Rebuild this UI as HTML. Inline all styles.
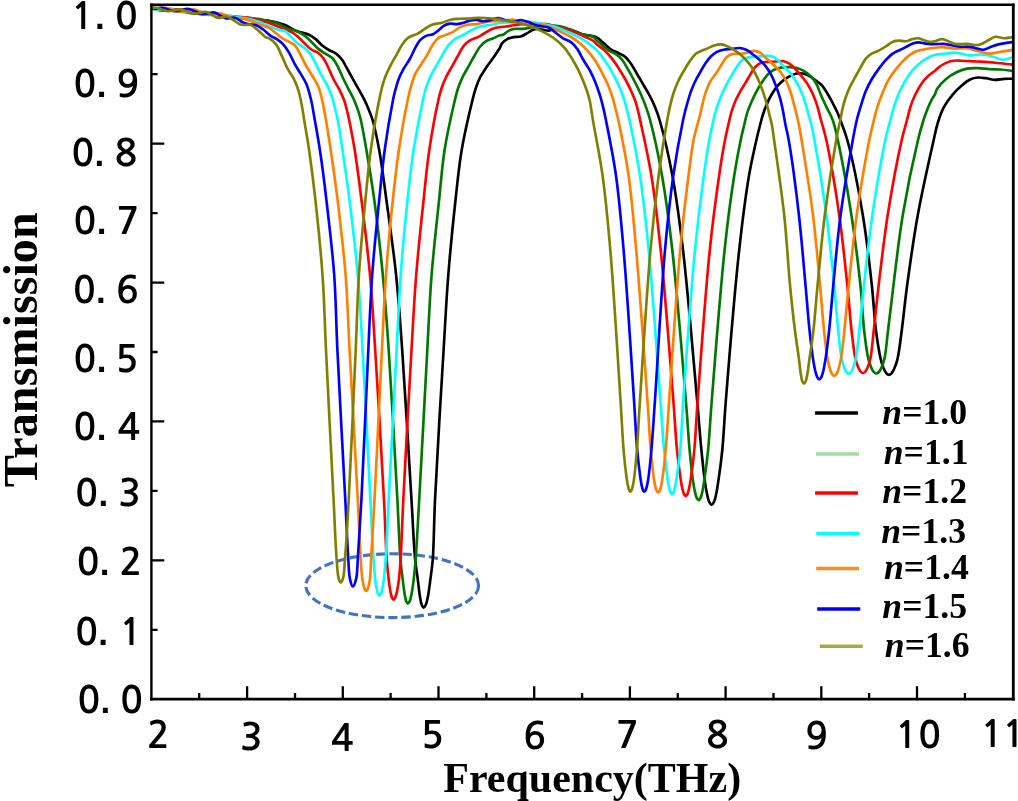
<!DOCTYPE html>
<html lang="en"><head><meta charset="utf-8"><title>Transmission vs Frequency</title>
<style>
html,body{margin:0;padding:0;background:#fff;}
body{width:1018px;height:801px;overflow:hidden;}
svg{display:block;}
.tk{font-family:"NanumGothic","Noto Sans CJK SC","Liberation Sans",sans-serif;font-weight:bold;font-size:37.5px;fill:#000;}
.tk .dot{font-family:"Liberation Sans",sans-serif;font-size:35px;}
.ax{font-family:"Liberation Serif",serif;font-weight:bold;fill:#000;}
.lg{font-family:"Liberation Serif",serif;font-weight:bold;font-size:35.7px;fill:#000;}
.lg .it{font-style:italic;}
.cv{fill:none;stroke-width:2.65;stroke-linejoin:round;stroke-linecap:round;}
</style></head><body>
<svg width="1018" height="801" viewBox="0 0 1018 801">
<rect width="1018" height="801" fill="#fff"/>
<ellipse cx="392.2" cy="585.7" rx="86.4" ry="31.9" fill="none" stroke="#4472c4" stroke-width="3.1" stroke-dasharray="9.3 3.9"/>
<g class="cv">
<path d="M152.0 7.6C153.9 8.2 155.8 8.8 157.7 9.2C159.6 9.7 161.4 10.2 163.3 10.4C165.2 10.6 167.1 10.5 169.0 10.5C170.9 10.4 172.8 10.0 174.7 9.9C176.6 9.8 178.4 9.6 180.3 9.8C182.2 9.9 184.1 10.3 186.0 10.8C187.9 11.2 189.8 12.0 191.7 12.4C193.6 12.9 195.4 13.5 197.3 13.7C199.2 13.9 201.1 13.9 203.0 13.9C204.9 13.8 206.8 13.5 208.7 13.4C210.6 13.3 212.4 13.2 214.3 13.4C216.2 13.5 218.1 14.0 220.0 14.4C221.9 14.9 223.8 15.7 225.7 16.2C227.6 16.7 229.4 17.2 231.3 17.5C233.2 17.7 235.1 17.6 237.0 17.6C238.9 17.6 240.8 17.5 242.7 17.6C244.6 17.7 246.4 17.9 248.3 18.1C250.2 18.4 252.1 18.8 254.0 19.1C255.9 19.4 257.6 19.8 259.7 20.0C262.2 20.3 264.8 20.1 267.9 20.6C272.3 21.3 278.7 22.8 283.6 24.6C288.4 26.4 292.7 29.5 297.1 31.2C301.1 32.8 305.6 33.1 308.9 34.7C311.7 36.0 313.8 37.6 316.0 39.4C318.2 41.2 319.8 43.5 321.9 45.3C324.1 47.1 326.5 48.6 328.9 50.0C331.2 51.4 333.9 52.0 336.0 53.6C338.2 55.2 340.2 57.2 341.9 59.5C343.7 61.9 345.0 64.8 346.6 67.7C348.5 71.0 350.5 74.8 352.5 78.3C354.5 81.8 356.4 85.4 358.4 88.9C360.4 92.5 362.5 96.0 364.3 99.6C366.0 103.1 367.6 106.7 369.0 110.2C370.3 113.5 371.4 115.8 372.6 120.0C374.7 127.2 377.1 138.7 379.2 150.0C381.8 164.5 383.9 181.6 386.4 200.0C389.5 222.5 393.5 250.0 396.1 275.0C398.7 300.0 400.1 320.7 402.2 350.0C405.2 391.4 409.1 461.5 411.5 500.0C413.0 524.2 413.7 544.6 415.1 559.0C415.9 567.3 416.9 572.3 417.7 578.6C418.4 584.4 419.0 590.7 419.8 595.5C420.4 599.1 420.8 602.6 421.7 604.8C422.3 606.1 422.9 607.7 423.6 607.7C424.3 607.7 425.2 606.1 425.8 604.8C426.8 602.6 427.4 599.1 428.1 595.5C429.0 590.7 429.7 584.4 430.5 578.6C431.3 572.3 432.2 567.3 432.8 559.0C433.9 544.6 433.9 524.2 435.0 500.0C436.8 461.4 441.1 391.4 443.6 350.0C445.4 320.7 446.3 300.0 448.3 275.0C450.3 250.0 453.0 222.5 455.5 200.0C457.5 181.6 458.9 166.6 461.7 150.0C464.5 133.3 469.9 110.6 472.5 100.0C473.7 95.0 474.3 92.7 475.5 89.0C476.8 85.1 478.4 80.8 480.2 77.2C481.9 73.8 484.1 70.8 486.1 67.8C488.0 64.9 489.9 62.5 492.0 59.5C494.5 55.9 498.4 50.7 500.0 47.7C500.9 46.0 500.8 44.9 501.8 43.6C503.1 41.9 505.6 40.0 507.7 38.9C509.6 37.9 511.5 37.5 513.6 37.1C515.8 36.7 518.4 37.1 520.6 36.5C522.7 35.9 524.6 34.7 526.5 33.6C528.5 32.5 530.5 30.8 532.4 30.0C534.0 29.3 535.6 29.0 537.2 28.9C538.8 28.8 540.2 29.3 541.9 29.5C544.0 29.8 546.6 30.8 548.9 30.6C551.3 30.4 553.4 28.9 556.0 28.5C558.9 28.1 562.3 28.0 565.4 28.5C568.6 29.0 571.8 30.4 574.9 31.5C578.0 32.5 581.4 34.1 584.3 34.8C586.8 35.4 589.2 35.4 591.4 35.9C593.4 36.4 595.2 36.7 597.1 37.7C599.4 39.0 601.8 41.6 604.1 43.6C606.5 45.6 608.7 47.9 611.2 49.5C613.5 51.0 616.0 51.7 618.3 53.0C620.7 54.3 623.3 55.3 625.4 57.1C627.6 59.0 629.4 61.5 631.3 64.2C633.4 67.2 635.2 70.9 637.2 74.2C639.1 77.5 641.1 80.9 643.0 84.2C645.0 87.5 647.0 90.6 648.9 94.2C651.0 98.1 653.0 102.3 654.8 106.6C656.6 110.9 657.8 113.9 659.6 120.0C663.1 132.1 668.6 155.2 672.3 175.0C676.6 198.0 679.5 220.7 683.0 250.0C687.9 291.4 693.8 363.4 697.1 400.0C699.0 421.1 700.0 435.7 701.4 450.0C702.5 460.9 703.4 470.6 704.5 478.6C705.3 484.5 706.0 489.5 707.0 493.8C707.7 497.0 708.3 500.2 709.4 502.2C710.0 503.4 710.9 504.8 711.6 504.8C712.3 504.8 713.2 503.4 713.8 502.2C714.9 500.2 715.5 497.0 716.2 493.8C717.2 489.5 717.8 484.5 718.7 478.6C719.9 470.6 721.2 460.9 722.3 450.0C723.7 435.7 724.2 421.1 725.9 400.0C728.8 363.4 734.6 291.4 739.2 250.0C742.4 220.7 745.7 195.2 749.1 175.0C751.5 161.1 754.3 149.2 756.4 140.0C757.8 133.9 758.9 129.6 760.1 125.0C761.1 121.0 761.9 117.6 763.1 114.0C764.3 110.4 765.7 106.8 767.2 103.4C768.6 100.1 770.1 97.0 771.9 94.0C773.7 91.1 775.6 88.2 777.8 85.7C779.9 83.3 782.4 81.0 784.9 79.2C787.2 77.5 789.5 76.1 791.9 75.1C794.2 74.2 796.7 73.5 799.0 73.3C801.0 73.1 803.0 73.4 804.9 73.9C806.9 74.5 809.0 75.7 810.8 76.8C812.5 77.9 813.9 79.2 815.5 80.4C817.2 81.7 819.2 82.5 820.9 84.2C823.0 86.3 824.9 89.5 826.8 92.5C828.9 95.8 830.9 99.7 832.7 103.1C834.4 106.3 836.1 109.5 837.4 112.5C838.6 115.1 839.2 116.9 840.3 120.0C842.2 125.1 844.8 131.1 847.3 140.0C852.0 156.9 858.7 190.4 862.8 215.0C866.8 238.7 869.5 264.2 871.8 285.0C873.6 301.6 874.2 316.7 875.9 330.0C877.3 340.6 879.0 351.7 880.6 358.6C881.6 362.6 882.4 365.4 883.5 368.0C884.4 370.0 885.2 372.0 886.3 373.2C887.1 374.0 888.0 374.8 888.9 374.8C889.8 374.8 890.8 374.0 891.7 373.2C892.8 372.0 893.7 370.0 894.5 368.0C895.7 365.4 896.7 362.6 897.6 358.6C899.2 351.7 900.4 340.6 901.8 330.0C903.6 316.7 904.9 301.6 907.2 285.0C910.0 264.2 913.5 238.7 917.8 215.0C922.3 190.4 930.0 156.3 933.7 140.0C935.5 132.1 936.1 128.1 937.9 122.5C939.6 117.0 941.5 111.4 944.1 106.6C946.6 102.1 949.8 98.0 952.9 94.3C955.7 91.0 958.7 88.0 961.8 85.4C964.6 83.0 967.7 80.5 970.6 79.2C973.0 78.1 975.2 77.7 977.7 77.5C980.5 77.3 983.7 77.9 986.5 78.3C989.0 78.7 991.0 79.6 993.6 79.8C996.8 80.0 1000.9 79.1 1004.2 78.9C1007.0 78.7 1009.5 78.8 1012.1 78.7" stroke="#000000"/>
<path d="M152.0 8.1C153.8 8.6 155.5 9.2 157.3 9.6C159.1 10.0 160.9 10.2 162.7 10.3C164.5 10.3 166.2 10.1 168.0 9.9C169.8 9.8 171.5 9.4 173.3 9.4C175.1 9.3 176.9 9.4 178.7 9.7C180.5 10.0 182.2 10.5 184.0 11.0C185.8 11.5 187.5 12.2 189.3 12.6C191.1 13.0 192.9 13.3 194.7 13.4C196.5 13.4 198.2 13.2 200.0 13.1C201.8 13.0 203.5 12.6 205.3 12.6C207.1 12.6 208.9 12.7 210.7 13.0C212.5 13.3 214.2 13.9 216.0 14.4C217.8 14.9 219.5 15.7 221.3 16.0C223.1 16.4 224.9 16.6 226.7 16.7C228.5 16.8 230.2 16.6 232.0 16.6C233.8 16.7 235.5 16.7 237.3 16.8C239.1 17.0 240.9 17.3 242.7 17.6C244.5 17.8 245.9 18.3 248.0 18.5C250.8 18.7 254.7 18.3 258.0 18.7C261.3 19.1 264.6 20.2 267.9 21.0C271.2 21.8 274.5 22.4 277.7 23.6C281.0 24.9 284.4 27.3 287.5 28.5C290.1 29.5 292.3 29.6 294.8 30.6C297.8 31.8 301.4 33.4 304.2 35.3C306.9 37.1 309.0 39.6 311.3 41.8C313.7 44.1 315.8 46.9 318.3 48.9C320.6 50.8 323.0 52.0 325.4 53.6C327.8 55.2 330.5 56.3 332.5 58.3C334.5 60.3 335.7 62.6 337.2 65.4C339.2 69.0 341.1 74.1 343.1 78.3C345.0 82.3 347.0 86.2 349.0 90.1C351.0 94.0 353.3 98.1 354.9 101.9C356.3 105.2 357.4 108.2 358.4 111.3C359.3 114.2 359.9 116.2 360.8 120.0C362.4 127.0 364.5 138.7 366.4 150.0C368.9 164.5 371.8 181.6 374.3 200.0C377.3 222.4 380.4 250.0 382.8 275.0C385.2 300.0 386.7 320.7 388.7 350.0C391.5 391.4 395.3 461.5 397.4 500.0C398.7 524.2 399.2 544.6 400.4 559.0C401.1 567.3 401.9 572.6 402.6 578.6C403.2 583.8 403.8 589.0 404.5 593.2C405.0 596.2 405.4 599.3 406.2 601.2C406.7 602.3 407.3 603.7 407.9 603.7C408.5 603.7 409.2 602.3 409.8 601.2C410.6 599.3 411.1 596.2 411.7 593.2C412.5 589.0 413.2 583.8 413.8 578.6C414.5 572.6 415.1 567.3 415.7 559.0C416.8 544.6 417.8 524.2 419.2 500.0C421.4 461.5 425.0 391.4 427.3 350.0C428.9 320.7 429.6 300.0 431.6 275.0C433.6 250.0 436.7 222.5 439.1 200.0C441.0 181.6 442.0 166.6 444.6 150.0C447.2 133.3 452.4 110.6 454.9 100.0C456.1 95.0 456.6 92.7 457.8 89.0C459.1 85.1 460.7 81.0 462.5 77.2C464.3 73.5 466.4 70.1 468.4 66.6C470.4 63.1 472.3 59.4 474.3 56.0C476.2 52.7 478.0 49.1 480.2 46.5C482.0 44.3 483.9 42.6 486.1 41.2C488.3 39.9 490.9 39.3 493.2 38.3C495.5 37.3 498.2 35.8 500.0 35.3C501.2 34.9 501.9 35.3 503.0 34.8C504.7 34.1 506.8 31.6 508.9 30.6C510.8 29.7 512.6 29.2 514.8 28.9C517.3 28.5 520.4 29.1 523.0 28.9C525.5 28.7 527.7 28.1 530.1 27.7C532.5 27.3 534.7 26.9 537.2 26.5C540.1 26.1 543.5 25.4 546.6 25.3C549.7 25.2 552.9 25.5 556.0 25.9C559.1 26.3 562.3 26.8 565.4 27.7C568.6 28.6 571.7 30.0 574.9 31.2C578.0 32.4 581.2 33.9 584.3 34.8C587.1 35.6 590.6 35.5 592.6 36.5C594.1 37.2 594.6 38.3 595.9 39.4C597.6 40.9 599.7 42.9 601.8 44.7C604.0 46.6 606.5 49.0 608.9 50.6C611.2 52.1 613.8 52.7 615.9 54.2C618.1 55.7 620.0 57.3 621.8 59.5C624.0 62.1 625.8 65.6 627.7 68.9C629.7 72.3 631.7 75.8 633.6 79.5C635.6 83.3 637.6 87.2 639.5 91.3C641.5 95.8 643.6 100.6 645.4 105.4C647.2 110.2 648.4 113.5 650.1 120.0C653.4 132.4 658.4 155.2 661.9 175.0C666.0 198.0 668.9 220.7 672.3 250.0C677.0 291.4 682.8 363.4 685.8 400.0C687.6 421.1 688.3 435.7 689.6 450.0C690.6 460.9 691.6 471.0 692.7 478.6C693.4 483.6 694.0 487.5 694.8 491.1C695.4 493.7 695.9 496.4 696.8 498.0C697.4 499.0 698.1 500.1 698.7 500.1C699.3 500.1 700.0 498.9 700.5 498.0C701.4 496.4 701.9 493.7 702.5 491.1C703.2 487.5 703.8 483.6 704.5 478.6C705.6 471.0 707.0 460.9 708.1 450.0C709.5 435.7 710.1 421.1 711.8 400.0C714.7 363.4 720.2 291.4 724.6 250.0C727.7 220.7 731.1 195.3 734.3 175.0C736.5 161.1 738.8 149.2 740.7 140.0C742.0 133.9 743.1 129.7 744.2 125.0C745.2 120.7 745.9 116.8 747.2 112.8C748.5 108.8 750.2 104.9 751.9 101.0C753.7 97.0 755.7 92.9 757.8 89.2C759.7 85.8 761.6 82.7 763.7 79.8C765.6 77.2 767.4 74.5 769.5 72.7C771.3 71.1 773.3 70.1 775.4 69.2C777.6 68.3 780.1 67.7 782.5 67.4C784.8 67.1 787.2 67.0 789.6 67.1C792.0 67.2 794.4 67.4 796.7 68.0C799.1 68.6 801.4 69.6 803.7 70.9C806.2 72.3 808.7 74.1 810.8 76.3C813.1 78.6 815.0 81.5 816.7 84.5C818.5 87.7 819.3 91.3 820.9 95.0C822.7 99.1 824.8 103.6 826.8 107.8C828.7 111.9 831.0 115.3 832.7 120.0C834.8 125.8 835.9 131.2 837.8 140.0C841.5 157.0 847.6 190.4 851.4 215.0C855.1 238.7 858.2 264.2 860.4 285.0C862.2 301.6 862.6 316.7 864.1 330.0C865.3 340.6 866.7 351.9 868.3 358.6C869.2 362.4 870.1 364.8 871.1 367.2C871.9 369.1 872.7 370.9 873.8 372.0C874.5 372.8 875.5 373.5 876.3 373.5C877.2 373.5 878.1 372.8 878.9 372.0C880.0 370.9 880.8 369.1 881.6 367.2C882.7 364.8 883.6 362.4 884.5 358.6C886.0 351.9 886.8 340.6 888.1 330.0C889.7 316.7 891.4 301.6 893.5 285.0C896.1 264.2 898.8 238.7 902.8 215.0C906.9 190.4 913.9 157.0 918.0 140.0C920.1 131.2 921.8 125.5 923.5 120.0C924.7 116.1 925.7 113.5 927.0 110.2C928.4 106.7 930.2 102.5 931.7 99.6C932.8 97.5 934.1 96.1 935.0 94.3C935.9 92.6 935.8 90.9 937.0 89.0C938.8 86.1 942.5 82.0 945.8 79.2C949.0 76.4 952.8 74.0 956.5 72.2C959.9 70.5 963.5 69.3 967.1 68.6C970.6 67.9 974.0 68.0 977.7 68.1C981.7 68.2 986.0 69.0 990.0 69.2C993.7 69.4 997.1 69.2 1000.7 69.5C1004.4 69.8 1008.3 70.4 1012.1 70.9" stroke="#007800"/>
<path d="M152.0 8.6C153.7 9.0 155.3 9.6 157.0 9.8C158.7 10.0 160.3 10.0 162.0 9.9C163.7 9.8 165.3 9.4 167.0 9.3C168.7 9.1 170.3 8.9 172.0 9.0C173.7 9.1 175.3 9.4 177.0 9.8C178.7 10.2 180.3 10.9 182.0 11.4C183.7 11.9 185.3 12.4 187.0 12.6C188.7 12.8 190.3 12.9 192.0 12.8C193.7 12.7 195.3 12.4 197.0 12.2C198.7 12.1 200.3 11.9 202.0 12.0C203.7 12.1 205.3 12.5 207.0 12.9C208.7 13.3 210.3 14.1 212.0 14.5C213.7 15.0 215.3 15.4 217.0 15.6C218.7 15.8 220.3 15.7 222.0 15.8C223.7 15.8 225.3 15.7 227.0 15.8C228.7 15.8 230.3 16.0 232.0 16.2C233.7 16.4 235.0 16.8 237.0 17.0C240.0 17.3 244.6 17.0 248.2 17.5C251.6 18.0 254.7 19.2 258.0 20.0C261.3 20.9 264.6 21.5 267.9 22.6C271.2 23.7 274.4 25.2 277.7 26.5C281.0 27.8 285.3 29.7 287.5 30.5C288.6 30.9 289.0 30.7 290.0 31.2C291.8 32.0 294.8 34.0 297.1 35.9C299.6 37.9 301.8 40.7 304.2 43.0C306.5 45.2 308.8 47.8 311.3 49.5C313.5 51.0 316.3 51.6 318.3 53.0C320.1 54.3 321.6 55.8 323.0 57.7C324.8 60.1 326.2 63.2 327.8 66.5C329.7 70.4 331.6 75.4 333.7 79.5C335.6 83.3 337.8 86.5 339.6 90.1C341.3 93.6 343.0 97.1 344.3 100.7C345.5 104.2 346.4 107.9 347.2 111.3C348.0 114.3 348.4 116.2 349.2 120.0C350.6 127.0 352.9 138.7 354.7 150.0C357.0 164.5 359.2 181.6 361.5 200.0C364.3 222.5 367.7 250.0 370.0 275.0C372.3 300.0 373.3 320.7 375.2 350.0C377.9 391.4 382.0 461.5 384.0 500.0C385.3 524.2 385.7 544.6 386.7 559.0C387.3 567.3 387.9 572.8 388.6 578.6C389.1 583.2 389.7 587.4 390.3 590.9C390.8 593.5 391.2 596.1 392.0 597.7C392.4 598.6 393.0 599.8 393.5 599.8C394.1 599.8 394.7 598.7 395.2 597.7C396.0 596.1 396.5 593.5 397.1 590.9C397.8 587.4 398.5 583.2 399.0 578.6C399.7 572.8 400.1 567.3 400.6 559.0C401.5 544.6 402.1 524.2 403.3 500.0C405.2 461.5 409.1 391.4 411.5 350.0C413.2 320.7 414.2 300.0 416.2 275.0C418.2 250.0 421.2 222.5 423.6 200.0C425.6 181.6 426.8 166.6 429.3 150.0C431.8 133.3 436.0 110.6 438.4 100.0C439.5 95.0 440.1 92.7 441.3 89.0C442.6 85.1 444.2 81.0 446.0 77.2C447.8 73.5 449.9 70.1 451.9 66.6C453.9 63.1 455.8 59.5 457.8 56.0C459.7 52.6 461.5 48.6 463.7 45.9C465.5 43.7 467.3 42.0 469.6 40.6C472.0 39.1 475.2 38.4 477.8 37.1C480.3 35.9 482.5 34.4 484.9 33.0C487.3 31.6 489.5 29.9 492.0 28.9C494.5 27.9 497.6 27.5 500.0 27.1C501.9 26.8 503.3 26.8 505.3 26.5C507.8 26.2 510.7 25.7 513.6 25.3C516.6 24.9 519.7 24.4 523.0 24.1C526.7 23.8 530.9 23.6 534.8 23.6C538.7 23.6 542.9 23.6 546.6 24.1C549.9 24.6 552.9 25.7 556.0 26.5C559.1 27.3 562.3 27.9 565.4 28.9C568.6 29.9 571.8 31.1 574.9 32.4C578.1 33.7 581.2 35.0 584.3 36.5C587.5 38.0 591.4 39.5 593.7 41.2C595.2 42.3 595.7 43.5 597.1 44.7C599.0 46.4 601.8 48.0 604.1 50.0C606.6 52.2 608.9 54.9 611.2 57.7C613.7 60.7 616.0 64.2 618.3 67.7C620.7 71.4 623.2 75.5 625.4 79.5C627.5 83.4 629.5 87.3 631.3 91.3C633.0 95.2 634.6 98.8 636.0 103.1C637.6 108.2 638.5 112.7 640.1 120.0C643.0 133.1 648.0 155.2 651.3 175.0C655.1 198.0 657.6 220.7 660.7 250.0C665.0 291.4 670.4 363.4 673.3 400.0C675.0 421.1 675.6 435.7 677.0 450.0C678.1 460.9 679.5 471.5 680.6 478.6C681.2 482.9 681.7 485.9 682.4 488.8C682.9 491.0 683.4 493.1 684.1 494.4C684.6 495.3 685.2 496.2 685.7 496.2C686.2 496.2 686.8 495.3 687.3 494.4C688.0 493.1 688.5 491.0 689.0 488.8C689.7 485.9 690.2 482.9 690.8 478.6C691.9 471.5 693.3 460.9 694.3 450.0C695.7 435.7 696.1 421.1 697.7 400.0C700.4 363.4 705.5 291.4 709.8 250.0C712.8 220.7 716.3 195.3 719.2 175.0C721.2 161.1 723.2 149.2 725.0 140.0C726.2 133.9 727.2 129.7 728.3 125.0C729.3 120.7 730.0 116.8 731.2 112.8C732.4 108.8 733.8 104.7 735.4 101.0C736.8 97.6 738.4 94.7 740.1 91.6C741.9 88.4 744.2 85.2 746.0 82.1C747.7 79.3 749.1 76.5 750.7 73.9C752.2 71.4 753.5 68.7 755.4 66.8C757.1 65.0 759.1 63.5 761.3 62.7C763.5 61.9 765.9 62.1 768.4 61.9C771.0 61.7 774.0 61.6 776.6 61.5C779.1 61.4 781.5 60.8 783.7 61.2C785.8 61.6 787.7 62.7 789.6 63.9C791.7 65.3 793.5 67.2 795.5 69.2C797.8 71.6 800.4 74.6 802.6 77.4C804.7 80.1 806.7 82.6 808.5 85.7C810.6 89.2 812.7 93.6 814.3 97.5C815.8 101.1 816.9 104.8 817.9 108.1C818.8 111.0 819.1 112.9 820.0 116.3C821.5 122.2 824.1 129.8 826.3 140.0C830.2 157.9 835.7 190.4 839.2 215.0C842.6 238.7 845.1 264.2 847.3 285.0C849.0 301.6 850.0 316.7 851.5 330.0C852.7 340.6 853.9 352.0 855.4 358.6C856.2 362.3 857.1 364.6 858.1 367.0C858.8 368.8 859.6 370.5 860.6 371.6C861.3 372.3 862.2 373.0 863.0 373.0C863.8 373.0 864.6 372.3 865.3 371.6C866.3 370.5 867.0 368.8 867.8 367.0C868.8 364.6 869.6 362.3 870.4 358.6C871.8 352.0 872.6 340.6 873.8 330.0C875.3 316.7 876.7 301.6 878.7 285.0C881.2 264.2 884.0 238.7 887.7 215.0C891.6 190.4 897.9 157.0 901.7 140.0C903.7 131.2 905.4 126.0 907.0 120.0C908.3 115.1 909.1 110.9 910.5 106.6C911.8 102.5 913.4 98.6 915.2 94.8C917.0 91.1 918.9 87.4 921.1 84.2C923.2 81.2 925.7 78.3 928.2 76.0C930.4 73.9 932.9 72.4 935.0 70.7C936.9 69.1 938.2 67.5 940.5 66.0C943.4 64.1 947.6 61.9 951.2 61.0C954.7 60.2 958.0 60.6 961.8 60.7C966.2 60.8 971.4 61.3 975.9 61.5C980.2 61.7 984.2 61.8 988.3 62.1C992.4 62.4 996.7 62.9 1000.7 63.3C1004.6 63.7 1008.3 64.2 1012.1 64.6" stroke="#ff0000"/>
<path d="M152.0 9.2C153.6 9.4 155.2 9.7 156.8 9.7C158.4 9.7 159.9 9.4 161.5 9.2C163.1 9.0 164.6 8.7 166.2 8.7C167.8 8.6 169.4 8.7 171.0 9.0C172.6 9.3 174.2 9.9 175.8 10.3C177.4 10.8 178.9 11.5 180.5 11.8C182.1 12.1 183.6 12.3 185.2 12.4C186.8 12.4 188.4 12.1 190.0 11.9C191.6 11.8 193.2 11.4 194.8 11.4C196.4 11.4 197.9 11.5 199.5 11.8C201.1 12.1 202.6 12.8 204.2 13.2C205.8 13.7 207.4 14.4 209.0 14.8C210.6 15.1 212.2 15.2 213.8 15.3C215.4 15.3 216.9 15.0 218.5 15.0C220.1 14.9 221.6 14.9 223.2 15.0C224.8 15.1 226.4 15.4 228.0 15.6C229.6 15.9 231.2 16.3 232.8 16.6C234.4 16.8 235.6 17.0 237.5 17.2C240.3 17.6 244.7 18.0 248.2 18.7C251.6 19.4 254.7 20.5 258.0 21.6C261.3 22.7 264.6 24.2 267.9 25.5C271.2 26.8 274.6 28.5 277.7 29.5C280.4 30.3 283.1 30.0 285.3 31.2C287.6 32.5 289.2 35.1 291.2 37.1C293.2 39.1 294.9 41.2 297.1 43.0C299.3 44.8 302.0 45.9 304.2 47.7C306.4 49.5 308.3 51.2 310.1 53.6C312.3 56.5 314.1 60.5 316.0 64.2C318.0 68.0 319.9 72.2 321.9 76.0C323.8 79.7 326.0 82.9 327.8 86.6C329.6 90.4 331.2 94.4 332.5 98.4C333.7 102.3 334.5 106.4 335.4 110.2C336.2 113.6 337.0 115.8 337.8 120.0C339.3 127.3 340.8 138.7 342.5 150.0C344.7 164.5 347.2 181.6 349.5 200.0C352.3 222.5 355.6 250.0 357.8 275.0C360.0 300.0 360.9 320.7 362.6 350.0C365.0 391.4 368.4 461.5 370.4 500.0C371.7 524.2 372.5 544.6 373.5 559.0C374.1 567.3 374.5 573.2 375.1 578.6C375.6 582.5 376.0 585.7 376.6 588.5C377.0 590.6 377.4 592.7 378.0 594.0C378.4 594.8 378.9 595.7 379.4 595.7C379.9 595.7 380.4 594.8 380.8 594.0C381.5 592.7 381.9 590.6 382.3 588.5C382.9 585.7 383.4 582.5 383.9 578.6C384.6 573.2 385.1 567.3 385.7 559.0C386.7 544.6 387.4 524.2 388.7 500.0C390.7 461.5 394.4 391.4 396.6 350.0C398.2 320.7 398.9 300.0 400.7 275.0C402.5 250.0 405.1 222.5 407.5 200.0C409.5 181.6 411.0 166.6 413.6 150.0C416.2 133.3 420.6 111.0 423.0 100.0C424.2 94.5 424.7 91.8 426.0 87.8C427.3 83.8 428.9 79.8 430.7 76.0C432.5 72.3 434.6 68.9 436.6 65.4C438.6 61.9 440.5 58.2 442.5 54.8C444.4 51.5 446.3 48.1 448.4 45.4C450.2 43.1 452.0 41.2 454.3 39.5C456.7 37.8 459.9 36.7 462.5 35.3C465.0 34.0 467.2 32.5 469.6 31.2C471.9 29.9 474.3 28.6 476.7 27.7C479.0 26.8 481.3 26.4 483.7 25.9C486.3 25.4 489.3 25.2 492.0 24.7C494.7 24.2 497.3 23.4 500.0 23.0C502.6 22.6 504.9 22.5 507.7 22.4C511.2 22.3 515.7 22.5 519.5 22.4C523.1 22.3 526.6 21.6 530.1 21.8C533.6 22.0 537.2 22.9 540.7 23.6C544.2 24.3 547.9 25.0 551.3 25.9C554.5 26.8 557.6 27.7 560.7 28.9C563.9 30.1 567.1 31.5 570.2 33.0C573.4 34.5 576.5 36.0 579.6 37.7C582.8 39.5 586.1 41.4 589.0 43.6C591.9 45.7 594.6 48.0 597.1 50.6C599.7 53.3 601.8 56.3 604.1 59.5C606.5 63.0 609.0 66.9 611.2 70.7C613.3 74.4 615.2 77.9 617.1 81.9C619.2 86.3 621.4 91.5 623.0 96.0C624.4 100.1 625.4 103.8 626.5 107.8C627.6 111.8 628.3 114.4 629.5 120.0C632.0 131.7 636.9 155.2 639.9 175.0C643.4 198.0 645.8 220.7 648.7 250.0C652.7 291.4 657.6 363.4 660.4 400.0C662.0 421.1 662.7 435.7 664.1 450.0C665.2 460.9 666.6 471.8 667.6 478.6C668.2 482.4 668.6 485.0 669.1 487.5C669.6 489.4 670.0 491.3 670.6 492.5C671.0 493.2 671.5 494.0 672.0 494.0C672.5 494.0 673.0 493.2 673.4 492.5C674.1 491.3 674.5 489.4 674.9 487.5C675.5 485.0 675.9 482.4 676.5 478.6C677.5 471.8 679.2 460.9 680.2 450.0C681.6 435.7 681.8 421.1 683.3 400.0C685.9 363.4 690.9 291.4 695.0 250.0C697.9 220.7 701.1 195.3 703.9 175.0C705.8 161.1 707.6 149.2 709.3 140.0C710.4 133.9 711.3 129.7 712.4 125.0C713.4 120.7 714.1 117.0 715.3 112.8C716.6 108.2 718.2 103.3 720.0 98.7C721.8 94.2 723.8 89.8 725.9 85.7C727.8 81.9 729.8 78.5 731.8 75.1C733.7 71.8 735.8 68.3 737.7 65.6C739.3 63.4 740.5 61.2 742.4 59.8C744.1 58.5 746.1 57.9 748.3 57.4C750.8 56.8 753.8 57.0 756.6 56.8C759.3 56.6 762.2 56.1 764.8 56.0C767.2 55.9 769.7 55.5 771.9 56.2C774.1 56.9 775.8 58.6 777.8 60.3C780.1 62.3 782.6 65.0 784.9 67.4C787.3 69.9 789.8 72.3 791.9 75.1C794.1 78.0 796.0 81.2 797.8 84.5C799.6 87.9 801.2 91.5 802.6 95.1C804.0 98.6 805.0 102.2 806.1 105.7C807.2 109.2 808.1 112.9 809.0 116.3C809.8 119.3 810.6 121.7 811.4 125.0C812.4 129.3 813.2 133.1 814.5 140.0C817.3 155.4 823.1 190.4 826.4 215.0C829.6 238.7 832.1 264.2 834.2 285.0C835.9 301.6 836.8 316.7 838.2 330.0C839.3 340.6 840.2 351.8 841.6 358.6C842.4 362.4 843.2 364.9 844.1 367.4C844.9 369.3 845.6 371.2 846.5 372.3C847.2 373.1 848.0 373.8 848.8 373.8C849.5 373.8 850.4 373.1 851.0 372.3C851.9 371.2 852.6 369.3 853.3 367.4C854.3 364.9 855.0 362.4 855.8 358.6C857.2 351.8 858.2 340.6 859.4 330.0C860.9 316.7 862.2 301.6 864.0 285.0C866.3 264.2 868.9 238.7 872.4 215.0C876.0 190.4 881.7 157.0 885.3 140.0C887.2 131.2 888.8 126.0 890.4 120.0C891.7 115.1 892.6 111.0 894.0 106.6C895.4 102.2 896.9 97.9 898.7 93.7C900.5 89.6 902.4 85.7 904.6 81.9C906.8 78.2 909.2 74.4 911.7 71.3C913.9 68.6 916.3 66.3 918.7 64.2C921.0 62.2 923.2 60.4 925.8 58.9C928.6 57.3 931.9 55.6 935.0 54.8C938.0 54.0 940.8 54.2 944.1 53.9C947.9 53.5 952.4 52.5 956.5 52.7C960.6 52.9 964.7 55.1 968.8 55.4C972.9 55.7 977.2 54.3 981.2 54.5C984.9 54.7 988.3 55.3 991.8 56.2C995.4 57.1 998.9 59.6 1002.4 59.8C1005.7 60.0 1008.9 58.3 1012.1 57.5" stroke="#00ffff"/>
<path d="M152.0 8.3C154.0 8.5 155.9 9.0 158.0 8.9C160.3 8.8 162.9 7.6 165.3 7.7C167.6 7.8 169.7 8.9 172.0 9.6C174.4 10.3 177.0 11.6 179.5 11.8C181.9 12.0 184.2 11.2 186.5 10.8C188.9 10.4 191.3 9.2 193.6 9.4C195.8 9.6 197.9 10.9 200.0 11.8C202.2 12.7 204.3 14.3 206.6 14.7C208.8 15.1 211.2 14.7 213.5 14.5C215.9 14.3 218.5 13.4 220.7 13.6C222.8 13.8 224.6 14.8 226.5 15.5C228.5 16.2 230.5 17.3 232.5 17.7C234.4 18.1 236.4 18.0 238.4 18.2C240.4 18.4 242.2 18.4 244.3 18.9C246.9 19.5 249.8 20.8 252.6 21.8C255.6 22.9 259.0 24.2 262.0 25.3C264.8 26.3 268.0 27.1 270.0 28.3C271.5 29.2 272.1 30.1 273.5 31.2C275.5 32.8 278.2 35.4 280.6 37.1C282.9 38.7 285.3 39.8 287.7 41.2C290.1 42.6 292.8 43.3 294.8 45.3C297.2 47.6 298.7 51.4 300.6 54.8C302.6 58.5 304.4 62.8 306.5 66.5C308.4 69.9 310.5 72.7 312.4 76.0C314.4 79.4 316.7 82.6 318.3 86.6C320.2 91.1 321.3 96.6 322.5 101.9C323.8 107.7 324.8 113.2 326.0 120.0C327.5 128.7 329.0 138.7 330.7 150.0C332.8 164.5 335.4 181.6 337.6 200.0C340.3 222.5 343.6 250.0 345.6 275.0C347.6 300.0 348.0 320.7 349.6 350.0C351.8 391.4 355.8 461.5 357.8 500.0C359.1 524.2 359.8 544.6 360.7 559.0C361.2 567.3 361.6 573.7 362.3 578.6C362.7 581.6 363.2 583.8 363.7 585.8C364.1 587.3 364.4 588.9 365.0 589.8C365.3 590.3 365.8 591.0 366.2 591.0C366.6 591.0 367.1 590.3 367.4 589.8C367.9 588.9 368.3 587.3 368.7 585.8C369.2 583.8 369.6 581.6 370.0 578.6C370.6 573.7 370.6 567.3 371.1 559.0C371.9 544.6 373.2 524.2 374.5 500.0C376.6 461.5 379.7 391.4 381.9 350.0C383.4 320.7 384.2 300.0 386.0 275.0C387.8 250.0 390.4 222.5 392.8 200.0C394.8 181.6 396.4 166.6 398.9 150.0C401.4 133.3 405.4 111.0 407.7 100.0C408.8 94.5 409.4 92.0 410.6 87.8C411.9 83.2 413.4 77.8 415.4 73.7C417.1 70.1 419.3 67.4 421.3 64.2C423.3 61.1 425.3 58.1 427.2 54.8C429.2 51.4 430.9 47.2 433.0 44.2C434.8 41.6 436.6 39.3 438.9 37.7C441.0 36.2 443.6 35.8 446.0 34.8C448.4 33.8 450.8 33.0 453.1 31.8C455.5 30.5 457.8 28.3 460.2 27.1C462.5 26.0 464.7 25.2 467.2 24.7C470.1 24.1 473.8 24.5 476.7 24.1C479.2 23.7 481.2 22.9 483.7 22.4C486.6 21.9 490.3 21.5 493.2 21.2C495.7 21.0 498.5 20.7 500.0 20.8C500.8 20.9 500.9 21.2 501.8 21.2C504.0 21.3 509.9 19.5 513.6 19.7C516.9 19.9 519.9 21.1 523.0 21.8C526.1 22.4 529.2 23.1 532.4 23.6C535.5 24.1 538.8 24.0 541.9 24.7C545.1 25.4 548.2 26.5 551.3 27.7C554.5 28.9 557.6 30.3 560.7 31.8C563.9 33.3 567.1 34.7 570.2 36.5C573.4 38.4 576.6 40.5 579.6 43.0C582.9 45.7 586.2 49.2 589.0 52.4C591.6 55.4 593.8 58.5 595.9 61.8C598.1 65.2 599.9 68.7 601.8 72.4C603.8 76.2 605.9 80.1 607.7 84.2C609.5 88.4 611.0 92.8 612.4 97.2C613.8 101.5 614.9 106.2 615.9 110.2C616.8 113.7 617.3 115.4 618.3 120.0C620.6 130.9 625.7 155.2 628.5 175.0C631.8 198.0 633.6 220.7 636.2 250.0C639.9 291.4 644.8 363.4 647.4 400.0C648.9 421.1 649.5 435.7 650.8 450.0C651.8 460.9 652.9 472.0 653.9 478.6C654.4 482.1 654.8 484.3 655.4 486.6C655.8 488.3 656.2 490.0 656.8 491.0C657.2 491.7 657.8 492.4 658.2 492.4C658.6 492.4 659.1 491.7 659.5 491.0C660.1 490.0 660.5 488.3 660.9 486.6C661.5 484.3 661.9 482.1 662.4 478.6C663.4 472.0 664.7 460.9 665.7 450.0C667.0 435.7 667.7 421.1 669.2 400.0C671.8 363.4 676.4 291.4 680.2 250.0C682.9 220.7 686.0 195.3 688.6 175.0C690.4 161.1 691.5 150.6 693.6 140.0C695.4 131.0 698.4 121.8 700.0 115.2C701.0 110.9 701.5 108.2 702.4 104.5C703.4 100.4 704.5 95.6 705.9 91.6C707.2 87.8 708.8 84.2 710.6 81.0C712.3 78.0 714.6 75.6 716.5 72.7C718.5 69.7 720.5 66.1 722.4 63.3C724.0 60.9 725.2 58.4 727.1 56.8C728.8 55.4 730.9 54.4 733.0 53.9C735.2 53.4 737.7 54.1 740.1 53.9C742.5 53.7 744.9 53.2 747.2 52.7C749.6 52.2 752.0 50.9 754.2 50.9C756.3 50.9 758.2 51.7 760.1 52.7C762.2 53.9 763.9 56.1 766.0 58.0C768.3 60.1 770.8 62.3 773.1 64.5C775.5 66.8 778.1 68.8 780.2 71.5C782.4 74.3 784.4 77.6 786.1 81.0C787.9 84.6 789.4 88.7 790.8 92.8C792.2 97.0 793.2 101.5 794.3 105.7C795.4 109.7 796.5 114.0 797.3 117.5C798.0 120.3 798.4 122.1 799.0 125.0C799.8 129.1 800.5 133.1 801.6 140.0C804.1 155.4 809.9 190.4 813.0 215.0C816.0 238.7 818.0 264.2 820.0 285.0C821.6 301.6 822.6 316.7 824.0 330.0C825.1 340.6 826.2 351.5 827.5 358.6C828.3 362.8 829.0 365.8 829.9 368.6C830.5 370.8 831.2 372.9 832.1 374.2C832.7 375.0 833.5 375.9 834.2 375.9C834.9 375.9 835.7 375.0 836.4 374.2C837.3 372.9 837.9 370.8 838.6 368.6C839.5 365.8 840.2 362.8 841.0 358.6C842.3 351.5 843.3 340.6 844.4 330.0C845.8 316.7 847.0 301.6 848.8 285.0C851.0 264.2 853.4 238.7 856.7 215.0C860.2 190.4 865.9 157.0 869.3 140.0C871.1 131.2 872.4 126.0 873.9 120.0C875.1 115.1 876.1 111.0 877.5 106.6C878.9 102.2 880.5 98.0 882.2 93.7C884.0 89.3 885.9 84.7 888.1 80.7C890.2 76.9 892.7 73.4 895.2 70.1C897.5 67.1 899.8 64.3 902.2 61.8C904.5 59.4 906.8 57.1 909.3 55.3C911.6 53.6 914.0 52.2 916.4 51.2C918.7 50.3 920.8 50.0 923.5 49.5C926.9 48.8 931.6 48.1 935.0 47.7C937.7 47.4 939.5 47.0 942.3 47.1C945.9 47.2 950.6 48.4 954.7 48.6C958.8 48.8 963.0 47.8 967.1 48.3C971.2 48.8 975.4 50.6 979.4 51.5C983.1 52.3 986.5 53.5 990.0 53.6C993.6 53.7 997.1 52.4 1000.7 51.8C1004.4 51.2 1008.3 50.7 1012.1 50.1" stroke="#ff8000"/>
<path d="M152.0 8.3C153.3 8.4 154.5 8.7 156.0 8.6C157.8 8.5 159.9 7.6 161.8 7.7C163.7 7.8 165.6 8.7 167.5 9.3C169.5 9.9 171.5 11.0 173.6 11.2C175.8 11.4 178.2 10.6 180.5 10.2C182.9 9.8 185.3 8.6 187.7 8.8C190.1 9.0 192.6 10.4 195.0 11.3C197.3 12.2 199.6 13.8 201.9 14.1C204.0 14.4 206.0 13.9 208.0 13.6C209.9 13.3 211.8 12.2 213.7 12.4C215.7 12.6 217.6 14.2 219.5 15.2C221.5 16.2 223.5 17.9 225.4 18.3C227.0 18.7 228.4 18.3 230.0 18.2C231.6 18.1 233.1 17.3 234.9 17.7C237.6 18.3 241.5 21.9 244.3 23.0C246.4 23.8 248.1 23.9 250.0 24.3C252.0 24.7 254.1 24.6 256.1 25.3C258.5 26.2 260.9 27.9 263.2 29.5C265.6 31.2 267.6 33.7 270.0 35.4C272.3 37.0 274.9 37.9 277.1 39.4C279.2 40.8 281.2 42.2 283.0 44.1C285.1 46.4 287.0 49.3 288.9 52.4C291.0 55.9 292.8 60.5 294.8 64.2C296.7 67.6 298.7 70.4 300.6 73.6C302.6 77.0 304.8 80.2 306.5 84.2C308.5 89.0 309.9 94.9 311.3 100.7C312.7 106.8 313.5 112.9 314.8 120.0C316.4 128.9 318.2 138.7 319.9 150.0C322.1 164.5 324.3 181.6 326.4 200.0C329.0 222.5 332.4 250.0 334.2 275.0C336.0 300.0 336.0 320.7 337.4 350.0C339.4 391.4 343.3 461.5 345.3 500.0C346.6 524.2 347.3 544.6 348.3 559.0C348.8 567.3 348.8 573.6 349.9 578.6C350.6 581.9 351.9 586.4 352.9 586.4C354.0 586.4 355.4 581.9 356.2 578.6C357.4 573.6 357.2 567.3 357.8 559.0C358.8 544.6 360.1 524.2 361.4 500.0C363.5 461.5 366.3 391.4 368.3 350.0C369.7 320.7 370.4 300.0 372.2 275.0C374.0 250.0 376.9 222.5 379.2 200.0C381.1 181.6 382.4 166.6 384.7 150.0C387.0 133.3 391.0 110.2 393.0 100.0C393.9 95.5 394.4 93.6 395.3 90.2C396.3 86.4 397.4 82.1 398.9 78.4C400.2 75.0 401.9 72.0 403.6 68.9C405.4 65.7 407.6 62.9 409.5 59.5C411.6 55.8 413.5 51.2 415.4 47.7C417.0 44.8 418.2 42.1 420.1 40.1C421.8 38.3 423.8 36.9 426.0 35.9C428.1 34.9 430.9 35.2 433.0 34.2C435.2 33.2 437.1 31.4 438.9 30.0C440.6 28.7 441.9 27.0 443.7 25.9C445.5 24.8 447.5 23.9 449.6 23.6C451.8 23.3 454.4 24.2 456.6 24.1C458.7 24.0 460.5 23.5 462.5 23.0C464.8 22.4 467.2 21.1 469.6 20.6C471.9 20.1 474.3 19.9 476.7 20.0C479.0 20.1 481.4 21.2 483.7 21.2C486.1 21.2 488.4 20.5 490.8 20.0C493.2 19.5 495.5 18.1 497.9 18.1C500.3 18.1 502.8 19.4 505.3 20.0C508.0 20.6 511.0 21.9 513.6 21.8C516.0 21.8 518.3 20.0 520.6 20.0C523.0 20.0 525.4 21.0 527.7 21.8C530.1 22.6 532.3 23.9 534.8 24.7C537.4 25.5 540.5 26.0 543.0 26.5C545.1 26.9 546.9 26.8 548.9 27.7C551.3 28.8 553.6 31.2 556.0 33.0C558.4 34.8 560.6 36.7 563.1 38.3C565.7 39.9 568.9 40.6 571.3 42.4C573.6 44.2 575.4 46.3 577.2 48.9C579.4 51.9 581.1 56.1 583.1 59.5C585.0 62.8 587.9 67.0 589.0 68.9C589.5 69.7 589.6 69.8 590.0 70.7C591.0 72.7 593.2 77.1 594.7 80.7C596.4 84.7 598.0 89.3 599.4 93.7C600.8 98.0 601.9 102.2 603.0 106.6C604.1 111.0 604.7 114.0 605.9 120.0C608.3 132.1 613.1 155.2 615.9 175.0C619.2 198.0 621.1 220.7 623.6 250.0C627.2 291.4 631.6 363.4 634.0 400.0C635.4 421.1 635.9 435.7 637.2 450.0C638.2 460.9 639.6 472.1 640.5 478.6C641.0 481.9 641.3 484.0 641.8 486.1C642.2 487.7 642.6 489.3 643.1 490.3C643.4 490.9 643.9 491.6 644.3 491.6C644.7 491.6 645.2 490.9 645.6 490.3C646.1 489.3 646.5 487.7 646.9 486.1C647.4 484.0 647.8 481.9 648.3 478.6C649.3 472.1 650.4 460.9 651.4 450.0C652.7 435.7 653.5 421.1 655.0 400.0C657.5 363.4 661.3 291.4 665.0 250.0C667.6 220.7 670.1 198.0 673.4 175.0C676.3 155.2 680.5 132.4 683.1 120.0C684.5 113.5 685.3 110.3 686.7 105.4C688.1 100.3 689.7 94.7 691.4 90.1C692.9 86.2 694.5 82.6 696.1 79.5C697.4 76.9 698.6 75.1 700.0 72.7C701.5 70.1 702.9 67.1 704.7 64.5C706.5 61.8 708.5 58.9 710.6 56.8C712.5 54.9 714.3 53.3 716.5 52.1C718.7 50.9 721.1 50.2 723.6 49.7C726.2 49.1 729.1 49.2 731.8 48.9C734.6 48.6 737.5 47.7 740.1 48.0C742.6 48.3 745.0 49.2 747.2 50.3C749.3 51.4 751.1 53.0 753.0 54.5C755.0 56.0 757.0 57.5 758.9 59.2C760.9 61.0 762.9 62.8 764.8 65.1C766.9 67.7 769.0 70.7 770.7 73.9C772.5 77.2 773.9 80.7 775.4 84.5C777.1 88.9 778.9 94.0 780.2 98.7C781.4 103.1 782.2 107.2 783.1 111.6C784.0 116.0 784.6 120.4 785.5 125.0C786.5 129.9 787.5 133.1 788.7 140.0C791.4 155.4 796.1 190.4 798.9 215.0C801.6 238.7 803.6 264.2 805.5 285.0C807.0 301.6 808.1 316.7 809.5 330.0C810.6 340.6 811.9 351.1 813.0 358.6C813.7 363.5 814.4 367.2 815.2 370.6C815.9 373.2 816.4 375.7 817.3 377.2C817.9 378.2 818.6 379.3 819.3 379.3C820.0 379.3 820.7 378.2 821.3 377.2C822.2 375.7 822.7 373.2 823.4 370.6C824.2 367.2 824.8 363.5 825.6 358.6C826.8 351.1 828.0 340.6 829.2 330.0C830.6 316.7 831.7 301.6 833.3 285.0C835.3 264.2 837.4 238.7 840.6 215.0C843.9 190.4 849.7 157.0 852.8 140.0C854.4 131.2 855.3 126.1 856.8 120.0C858.1 114.7 859.5 110.2 861.0 105.4C862.5 100.6 863.9 95.7 865.7 91.3C867.4 87.1 869.4 83.3 871.6 79.5C873.8 75.8 876.3 72.2 878.7 68.9C881.0 65.8 883.3 62.7 885.7 60.1C888.0 57.7 890.3 55.3 892.8 53.6C895.1 52.0 897.5 51.2 899.9 50.0C902.2 48.8 904.7 47.6 906.9 46.5C908.9 45.5 910.8 44.3 912.8 43.6C914.7 42.9 916.6 42.4 918.7 42.4C921.0 42.4 923.3 43.3 925.8 43.6C928.7 43.9 931.9 44.1 935.0 44.1C938.0 44.1 940.8 43.6 944.1 43.9C948.3 44.2 953.6 46.0 958.2 46.5C962.4 47.0 966.5 46.4 970.6 46.9C974.8 47.4 979.3 49.9 983.0 49.7C986.2 49.5 988.8 47.5 991.8 46.5C994.7 45.5 997.5 44.6 1000.7 43.9C1004.2 43.1 1008.3 42.7 1012.1 42.1" stroke="#0000ff"/>
<path d="M152.0 8.0C153.3 7.9 154.5 7.6 155.9 7.7C157.5 7.9 159.2 8.7 161.0 9.2C163.1 9.8 165.5 11.0 167.7 11.2C169.7 11.4 171.6 10.9 173.5 10.6C175.5 10.3 177.5 9.3 179.5 9.4C181.6 9.5 183.8 10.5 186.0 11.2C188.4 11.9 191.2 13.4 193.6 13.6C195.7 13.8 197.5 13.3 199.5 13.0C201.5 12.7 203.5 11.6 205.4 11.8C207.3 12.0 209.1 13.5 211.0 14.4C213.0 15.4 215.2 17.3 217.2 17.7C218.8 18.1 220.4 17.6 222.0 17.4C223.6 17.2 225.0 16.3 226.6 16.5C228.5 16.8 230.5 18.3 232.5 19.5C234.8 20.8 237.3 23.3 239.6 24.2C241.4 24.9 243.2 24.9 245.0 25.0C246.7 25.1 248.4 24.3 250.2 24.8C252.7 25.6 255.8 28.5 258.4 30.6C260.9 32.6 263.3 35.7 265.5 37.1C267.1 38.1 268.5 38.0 270.0 38.9C271.9 40.1 274.1 41.8 275.9 44.1C278.2 47.1 279.9 51.9 281.8 55.9C283.8 60.1 285.6 65.0 287.7 68.9C289.6 72.4 291.9 74.9 293.6 78.3C295.4 81.9 297.0 85.9 298.3 90.1C299.8 94.8 300.8 100.3 301.8 105.4C302.8 110.3 303.3 114.3 304.2 120.0C305.5 128.2 307.5 138.7 309.1 150.0C311.2 164.5 313.4 181.6 315.4 200.0C317.9 222.5 320.7 250.0 322.5 275.0C324.3 300.0 324.6 320.7 326.0 350.0C328.0 391.4 331.6 461.5 333.6 500.0C334.8 524.2 335.5 544.6 336.6 559.0C337.3 567.3 337.5 574.6 338.7 578.6C339.3 580.5 340.0 582.5 340.7 582.5C341.4 582.5 342.4 580.5 343.0 578.6C344.3 574.6 344.3 567.3 345.0 559.0C346.2 544.6 347.4 524.2 348.7 500.0C350.8 461.5 353.8 391.4 355.7 350.0C357.0 320.7 357.3 300.0 358.9 275.0C360.5 250.0 363.2 222.5 365.4 200.0C367.2 181.6 368.4 166.9 370.8 150.0C373.3 132.3 377.2 109.1 380.0 96.1C381.6 88.6 382.8 83.8 384.7 78.4C386.4 73.7 388.5 69.5 390.6 65.4C392.5 61.6 394.5 58.3 396.5 54.8C398.5 51.3 400.2 47.2 402.4 44.2C404.2 41.6 405.9 39.4 408.3 37.7C410.9 35.8 414.8 35.2 417.7 33.6C420.3 32.2 422.4 30.4 424.8 28.9C427.1 27.4 429.3 25.7 431.9 24.7C434.7 23.6 438.2 23.8 441.3 23.0C444.5 22.2 447.5 20.4 450.7 19.7C453.8 19.0 457.0 19.0 460.2 18.8C463.3 18.6 466.5 18.7 469.6 18.5C472.7 18.3 475.9 17.7 479.0 17.7C482.1 17.7 485.1 18.1 488.4 18.3C492.1 18.6 497.8 18.7 500.0 19.2C500.9 19.4 500.9 19.7 501.8 20.0C504.0 20.6 509.7 21.0 513.6 21.8C517.6 22.6 521.7 23.7 525.4 24.7C528.7 25.6 531.8 26.5 534.8 27.7C537.7 28.9 540.3 30.3 543.0 31.8C545.8 33.3 548.7 34.8 551.3 36.5C553.8 38.1 556.1 39.8 558.4 41.8C560.8 43.9 563.2 46.2 565.4 48.9C567.9 52.0 570.3 55.9 572.5 59.5C574.6 63.0 576.6 66.5 578.4 70.1C580.1 73.6 581.7 77.2 583.1 80.7C584.4 83.9 585.6 87.0 586.7 90.2C587.8 93.4 588.7 96.1 589.6 100.0C590.9 105.5 591.5 111.7 592.9 120.0C595.2 133.8 599.7 155.2 602.5 175.0C605.7 198.0 607.8 220.7 610.3 250.0C613.9 291.4 618.1 363.4 620.5 400.0C621.9 421.1 622.4 435.7 623.6 450.0C624.5 460.9 625.8 472.1 626.7 478.6C627.2 481.9 627.5 484.0 628.0 486.1C628.3 487.7 628.6 489.3 629.2 490.3C629.5 490.9 629.9 491.6 630.3 491.6C630.7 491.6 631.2 490.9 631.5 490.3C632.0 489.3 632.4 487.7 632.8 486.1C633.3 484.0 633.6 481.9 634.1 478.6C635.0 472.1 636.0 460.9 636.9 450.0C638.0 435.7 638.6 421.1 640.0 400.0C642.4 363.4 646.8 291.4 650.5 250.0C653.1 220.7 655.7 198.0 658.7 175.0C661.3 155.2 665.0 132.4 667.2 120.0C668.4 113.6 669.1 110.1 670.2 105.4C671.3 100.9 672.3 96.7 673.7 92.5C675.1 88.4 676.6 84.5 678.4 80.7C680.2 77.0 682.3 73.5 684.3 70.1C686.2 66.8 688.1 63.5 690.2 60.6C692.1 58.0 694.2 55.2 696.1 53.6C697.4 52.5 698.5 52.2 700.0 51.5C702.0 50.6 704.7 49.6 707.1 48.6C709.4 47.6 711.7 46.3 714.1 45.6C716.4 44.9 718.9 44.2 721.2 44.4C723.6 44.6 726.0 45.8 728.3 46.8C730.7 47.9 733.1 49.4 735.4 50.9C737.8 52.5 740.2 54.2 742.4 56.2C744.5 58.2 746.5 60.5 748.3 62.7C750.0 64.8 751.5 66.8 753.0 69.2C754.7 72.0 756.3 75.3 757.8 78.6C759.5 82.3 761.1 86.3 762.5 90.4C764.0 94.6 765.4 99.2 766.6 103.4C767.7 107.4 768.6 111.4 769.5 115.2C770.3 118.6 771.2 121.4 771.9 125.0C772.8 129.5 773.1 133.1 774.1 140.0C776.3 155.4 781.5 190.4 784.2 215.0C786.8 238.7 788.0 264.2 790.0 285.0C791.6 301.7 793.2 316.7 794.9 330.0C796.2 340.6 797.9 350.7 798.9 358.6C799.6 364.3 800.0 369.0 800.7 373.2C801.2 376.2 801.6 379.3 802.3 381.2C802.8 382.3 803.3 383.7 803.9 383.7C804.5 383.7 805.2 382.3 805.7 381.2C806.5 379.3 807.0 376.2 807.5 373.2C808.3 369.0 808.7 364.3 809.5 358.6C810.6 350.7 812.3 340.6 813.5 330.0C815.0 316.7 816.0 301.6 817.6 285.0C819.6 264.2 821.8 238.7 824.8 215.0C827.9 190.4 833.2 157.0 836.2 140.0C837.8 131.2 839.0 126.1 840.3 120.0C841.4 114.8 842.0 110.2 843.3 105.4C844.6 100.6 846.2 95.7 848.0 91.3C849.7 87.1 851.9 83.3 853.9 79.5C855.8 75.8 857.8 72.4 859.8 68.9C861.7 65.5 863.5 61.6 865.7 58.9C867.5 56.7 869.4 55.0 871.6 53.6C873.8 52.2 876.4 51.8 878.7 50.6C881.1 49.4 883.5 47.9 885.7 46.5C887.8 45.2 889.6 43.4 891.6 42.4C893.5 41.5 895.3 40.8 897.5 40.6C900.0 40.3 903.3 41.5 905.8 41.2C908.0 41.0 909.7 39.9 911.7 39.4C913.7 38.9 915.6 38.2 917.6 38.3C919.6 38.4 921.5 39.4 923.5 40.0C925.5 40.6 927.4 41.6 929.4 41.8C931.3 42.0 933.0 41.6 935.0 41.2C937.3 40.8 939.6 39.0 942.3 39.1C945.9 39.3 950.5 43.1 954.7 43.9C958.8 44.7 963.0 43.7 967.1 43.9C971.2 44.1 975.7 45.5 979.4 44.8C982.7 44.1 985.5 41.7 988.3 40.3C990.8 39.1 992.8 37.2 995.4 36.8C998.1 36.4 1001.3 38.2 1004.2 38.2C1006.9 38.2 1009.5 37.5 1012.1 37.2" stroke="#808000"/>
</g>
<g stroke="#000" fill="none">
<path d="M151.4 3.5V700.6" stroke-width="2.4"/>
<path d="M150.2 699.2H1014.7" stroke-width="2.8"/>
<path d="M150.1 4.8H1014.6" stroke-width="2.6"/>
<path d="M1013.3 3.5V700.6" stroke-width="2.8"/>
<path d="M199.2 699.2v-6.2M247.1 699.2v-12.9M295.0 699.2v-6.2M342.8 699.2v-12.9M390.6 699.2v-6.2M438.5 699.2v-12.9M486.4 699.2v-6.2M534.2 699.2v-12.9M582.1 699.2v-6.2M629.9 699.2v-12.9M677.8 699.2v-6.2M725.6 699.2v-12.9M773.5 699.2v-6.2M821.3 699.2v-12.9M869.1 699.2v-6.2M917.0 699.2v-12.9M964.9 699.2v-6.2M151.4 629.8h6.2M151.4 560.3h12.9M151.4 490.9h6.2M151.4 421.4h12.9M151.4 352.0h6.2M151.4 282.6h12.9M151.4 213.1h6.2M151.4 143.7h12.9M151.4 74.2h6.2" stroke-width="2.3"/>
</g>
<g class="tk">
<text><tspan x="71.1" y="29.0">1</tspan><tspan class="dot" x="95.1" y="29.0">.</tspan> <tspan x="114.9" y="29.0">0</tspan></text>
<text><tspan x="73.6" y="97.3">0</tspan><tspan class="dot" x="96.7" y="97.3">.</tspan> <tspan x="116.5" y="97.3">9</tspan></text>
<text><tspan x="71.5" y="166.2">0</tspan><tspan class="dot" x="94.6" y="166.2">.</tspan> <tspan x="114.4" y="166.2">8</tspan></text>
<text><tspan x="73.6" y="234.4">0</tspan><tspan class="dot" x="96.7" y="234.4">.</tspan> <tspan x="116.5" y="234.4">7</tspan></text>
<text><tspan x="73.0" y="302.9">0</tspan><tspan class="dot" x="96.1" y="302.9">.</tspan> <tspan x="115.9" y="302.9">6</tspan></text>
<text><tspan x="73.6" y="371.7">0</tspan><tspan class="dot" x="96.7" y="371.7">.</tspan> <tspan x="115.5" y="371.7">5</tspan></text>
<text><tspan x="73.6" y="440.0">0</tspan><tspan class="dot" x="96.7" y="440.0">.</tspan> <tspan x="117.5" y="440.0">4</tspan></text>
<text><tspan x="75.3" y="505.5">0</tspan><tspan class="dot" x="98.4" y="505.5">.</tspan> <tspan x="118.2" y="505.5">3</tspan></text>
<text><tspan x="76.7" y="574.6">0</tspan><tspan class="dot" x="99.8" y="574.6">.</tspan> <tspan x="119.6" y="574.6">2</tspan></text>
<text><tspan x="75.2" y="644.8">0</tspan><tspan class="dot" x="98.3" y="644.8">.</tspan> <tspan x="119.3" y="644.8">1</tspan></text>
<text><tspan x="77.4" y="713.4">0</tspan><tspan class="dot" x="100.5" y="713.4">.</tspan> <tspan x="120.3" y="713.4">0</tspan></text>
<text><tspan x="147.1" y="748.3">2</tspan></text>
<text><tspan x="240.0" y="749.8">3</tspan></text>
<text><tspan x="330.9" y="750.5">4</tspan></text>
<text><tspan x="421.0" y="748.2">5</tspan></text>
<text><tspan x="523.3" y="748.6">6</tspan></text>
<text><tspan x="615.9" y="748.2">7</tspan></text>
<text><tspan x="705.9" y="748.2">8</tspan></text>
<text><tspan x="805.3" y="749.3">9</tspan></text>
<text><tspan x="894.9" y="748.3">1</tspan><tspan x="918.2" y="748.3">0</tspan></text>
<text><tspan x="980.4" y="747.1">1</tspan><tspan x="1002.2" y="747.1">1</tspan></text>
</g>
<text class="ax" x="443.3" y="791.6" font-size="42">Frequency(THz)</text>
<text class="ax" transform="translate(36.9 487.2) rotate(-90)" font-size="48.2">Transmission</text>
<path d="M815.1 413.1H857.9" stroke="#000000" stroke-width="3.5" fill="none"/>
<text class="lg" x="882.3" y="424.0"><tspan class="it">n</tspan>=1.0</text>
<path d="M816.0 454.1H859.0" stroke="#a9d8a5" stroke-width="3.5" fill="none"/>
<text class="lg" x="883.7" y="463.9"><tspan class="it">n</tspan>=1.1</text>
<path d="M815.1 493.0H857.9" stroke="#ff0000" stroke-width="3.5" fill="none"/>
<text class="lg" x="882.2" y="502.7"><tspan class="it">n</tspan>=1.2</text>
<path d="M816.2 533.4H859.0" stroke="#00ffff" stroke-width="3.5" fill="none"/>
<text class="lg" x="881.2" y="543.1"><tspan class="it">n</tspan>=1.3</text>
<path d="M816.2 568.6H859.0" stroke="#ff8c1a" stroke-width="3.5" fill="none"/>
<text class="lg" x="884.0" y="578.7"><tspan class="it">n</tspan>=1.4</text>
<path d="M817.2 609.1H860.3" stroke="#0000ff" stroke-width="3.5" fill="none"/>
<text class="lg" x="882.3" y="618.1"><tspan class="it">n</tspan>=1.5</text>
<path d="M819.8 646.3H862.7" stroke="#a8a848" stroke-width="3.5" fill="none"/>
<text class="lg" x="884.8" y="656.9"><tspan class="it">n</tspan>=1.6</text>
</svg></body></html>
